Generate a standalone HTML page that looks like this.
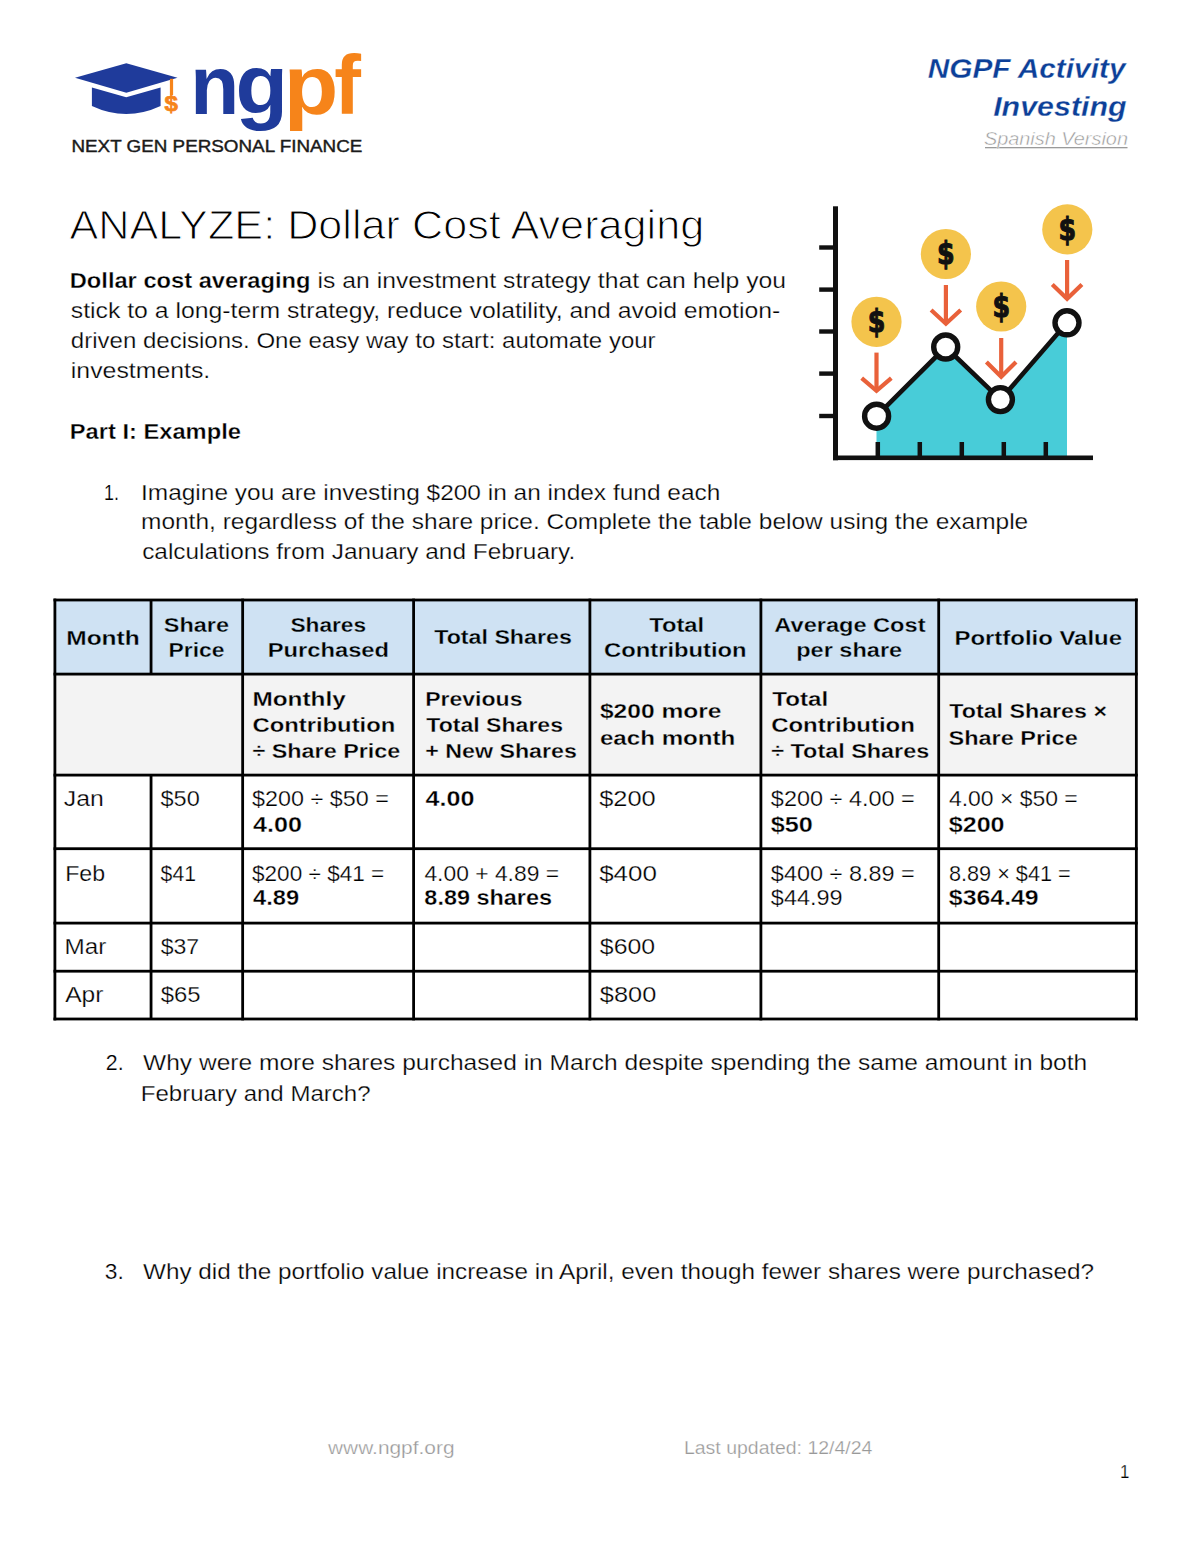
<!DOCTYPE html><html><head><meta charset="utf-8"><title>ANALYZE: Dollar Cost Averaging</title>
<style>html,body{margin:0;padding:0;background:#fff;}body{width:1200px;height:1553px;overflow:hidden;position:relative;font-family:"Liberation Sans",sans-serif;}svg{display:block;position:absolute;left:0;top:0;}</style></head><body>
<svg width="1200" height="1553" viewBox="0 0 1200 1553">
<g id="logo">
<polygon points="75,77.8 126.3,63.3 177.5,77.8 126.3,92.8" fill="#1f3b9b"/>
<path d="M91.9,87.6 L126.2,97.3 L160.6,87.6 L160.6,106 Q126.2,122 91.9,106 Z" fill="#1f3b9b"/>
<rect x="169.9" y="78.8" width="3.2" height="16.5" fill="#f6841a"/>
<text transform="translate(164.5,110.7) scale(1.12,1)" font-family="Liberation Sans, sans-serif" font-weight="700" font-size="21.5" fill="#f6841a" stroke="#f6841a" stroke-width="0.7">$</text>
</g>

<g id="chart">
<polygon points="876.5,416.2 945.7,347 1000.5,399.6 1067,322.8 1067,457.5 876.5,457.5" fill="#48ccd8"/>
<rect x="833" y="206.3" width="5" height="254" fill="#111"/>
<rect x="833" y="455.5" width="260" height="4.6" fill="#111"/>
<rect x="819.2" y="245.3" width="16" height="4.4" fill="#111"/>
<rect x="819.2" y="287.40000000000003" width="16" height="4.4" fill="#111"/>
<rect x="819.2" y="329.3" width="16" height="4.4" fill="#111"/>
<rect x="819.2" y="371.40000000000003" width="16" height="4.4" fill="#111"/>
<rect x="819.2" y="413.8" width="16" height="4.4" fill="#111"/>
<rect x="875.55" y="442" width="4.5" height="16" fill="#111"/>
<rect x="917.55" y="442" width="4.5" height="16" fill="#111"/>
<rect x="959.55" y="442" width="4.5" height="16" fill="#111"/>
<rect x="1001.55" y="442" width="4.5" height="16" fill="#111"/>
<rect x="1043.55" y="442" width="4.5" height="16" fill="#111"/>
<polyline points="876.5,416.2 945.7,347 1000.5,399.6 1067,322.8" fill="none" stroke="#111" stroke-width="4.6"/>
<circle cx="876.6" cy="416.2" r="12" fill="#fff" stroke="#111" stroke-width="5.4"/>
<circle cx="945.7" cy="347" r="12" fill="#fff" stroke="#111" stroke-width="5.4"/>
<circle cx="1000.4" cy="399.6" r="12" fill="#fff" stroke="#111" stroke-width="5.4"/>
<circle cx="1067" cy="322.8" r="12" fill="#fff" stroke="#111" stroke-width="5.4"/>
<circle cx="876.5" cy="321.8" r="25.1" fill="#f4c44c"/>
<text transform="translate(876.50,332.00) scale(0.78,1)" text-anchor="middle" font-family="DejaVu Sans, sans-serif" font-weight="700" font-size="32.5" fill="#111" stroke="#111" stroke-width="1.1">$</text>
<circle cx="945.9" cy="254" r="25.1" fill="#f4c44c"/>
<text transform="translate(945.90,264.20) scale(0.78,1)" text-anchor="middle" font-family="DejaVu Sans, sans-serif" font-weight="700" font-size="32.5" fill="#111" stroke="#111" stroke-width="1.1">$</text>
<circle cx="1001.2" cy="306.5" r="25.1" fill="#f4c44c"/>
<text transform="translate(1001.20,316.70) scale(0.78,1)" text-anchor="middle" font-family="DejaVu Sans, sans-serif" font-weight="700" font-size="32.5" fill="#111" stroke="#111" stroke-width="1.1">$</text>
<circle cx="1067.3" cy="229.4" r="25.1" fill="#f4c44c"/>
<text transform="translate(1067.30,239.60) scale(0.78,1)" text-anchor="middle" font-family="DejaVu Sans, sans-serif" font-weight="700" font-size="32.5" fill="#111" stroke="#111" stroke-width="1.1">$</text>
<line x1="876.5" y1="352.6" x2="876.5" y2="390.3" stroke="#e9613a" stroke-width="4.2"/>
<polyline points="861.7,378.2 876.5,390.8 891.3,378.2" fill="none" stroke="#e9613a" stroke-width="4.2"/>
<line x1="945.9" y1="285" x2="945.9" y2="323.2" stroke="#e9613a" stroke-width="4.2"/>
<polyline points="931.1,310 945.9,323.7 960.6999999999999,310" fill="none" stroke="#e9613a" stroke-width="4.2"/>
<line x1="1001.2" y1="338" x2="1001.2" y2="376.3" stroke="#e9613a" stroke-width="4.2"/>
<polyline points="986.4000000000001,362 1001.2,376.8 1016.0,362" fill="none" stroke="#e9613a" stroke-width="4.2"/>
<line x1="1067.1" y1="260" x2="1067.1" y2="298.3" stroke="#e9613a" stroke-width="4.2"/>
<polyline points="1052.3,284.6 1067.1,298.8 1081.8999999999999,284.6" fill="none" stroke="#e9613a" stroke-width="4.2"/>
</g>
<g id="table">
<rect x="54.9" y="600" width="1081.4499999999998" height="74.10000000000002" fill="#cfe2f3"/>
<rect x="54.9" y="674.1" width="1081.4499999999998" height="101.0" fill="#f3f3f3"/>
<rect x="53.5" y="598.6" width="1084.2499999999998" height="2.8" fill="#000"/>
<rect x="53.5" y="672.7" width="1084.2499999999998" height="2.8" fill="#000"/>
<rect x="53.5" y="773.7" width="1084.2499999999998" height="2.8" fill="#000"/>
<rect x="53.5" y="847.3000000000001" width="1084.2499999999998" height="2.8" fill="#000"/>
<rect x="53.5" y="921.7" width="1084.2499999999998" height="2.8" fill="#000"/>
<rect x="53.5" y="969.8000000000001" width="1084.2499999999998" height="2.8" fill="#000"/>
<rect x="53.5" y="1017.6" width="1084.2499999999998" height="2.8" fill="#000"/>
<rect x="53.5" y="598.6" width="2.8" height="421.8" fill="#000"/>
<rect x="149.65" y="600" width="2.8" height="74.10000000000002" fill="#000"/>
<rect x="149.65" y="775.1" width="2.8" height="243.89999999999998" fill="#000"/>
<rect x="241.25" y="598.6" width="2.8" height="421.8" fill="#000"/>
<rect x="412.20000000000005" y="598.6" width="2.8" height="421.8" fill="#000"/>
<rect x="588.5" y="598.6" width="2.8" height="421.8" fill="#000"/>
<rect x="759.5" y="598.6" width="2.8" height="421.8" fill="#000"/>
<rect x="937.3000000000001" y="598.6" width="2.8" height="421.8" fill="#000"/>
<rect x="1134.9499999999998" y="598.6" width="2.8" height="421.8" fill="#000"/>
</g>
<rect x="985" y="147" width="142.5" height="1.3" fill="#9a9a9a"/>
<g id="text">
<text x="927.70" y="77.5" style="font-family:'Liberation Sans', sans-serif;font-size:27.2px;font-weight:700;font-style:italic;stroke:#fff;stroke-width:0.3px;" fill="#0c3f98" textLength="197.81" lengthAdjust="spacingAndGlyphs">NGPF Activity</text>
<text x="993.18" y="116.4" style="font-family:'Liberation Sans', sans-serif;font-size:27.2px;font-weight:700;font-style:italic;stroke:#fff;stroke-width:0.3px;" fill="#0c3f98" textLength="133.50" lengthAdjust="spacingAndGlyphs">Investing</text>
<text x="983.93" y="145.3" style="font-family:'Liberation Sans', sans-serif;font-size:18.6px;font-weight:400;font-style:italic;stroke:#fff;stroke-width:0.45px;" fill="#9a9a9a" textLength="144.04" lengthAdjust="spacingAndGlyphs">Spanish Version</text>
<text x="71.47" y="152.4" style="font-family:'Liberation Sans', sans-serif;font-size:16.6px;font-weight:400;stroke:#1a1a1a;stroke-width:0.4px;" fill="#1a1a1a" textLength="290.82" lengthAdjust="spacingAndGlyphs">NEXT GEN PERSONAL FINANCE</text>
<text x="190.17" y="114.3" style="font-family:'Liberation Sans', sans-serif;font-size:83px;font-weight:700;" fill="#1f3b9b" textLength="48.97" lengthAdjust="spacingAndGlyphs">n</text>
<text x="235.49" y="114.3" style="font-family:'Liberation Sans', sans-serif;font-size:83px;font-weight:700;" fill="#1f3b9b" textLength="52.51" lengthAdjust="spacingAndGlyphs">g</text>
<text x="283.82" y="114.3" style="font-family:'Liberation Sans', sans-serif;font-size:83px;font-weight:700;" fill="#f6841a" textLength="54.57" lengthAdjust="spacingAndGlyphs">p</text>
<text x="334.23" y="114.3" style="font-family:'Liberation Sans', sans-serif;font-size:83px;font-weight:700;" fill="#f6841a" textLength="26.72" lengthAdjust="spacingAndGlyphs">f</text>
<text x="69.45" y="238.6" style="font-family:'Liberation Sans', sans-serif;font-size:41px;font-weight:400;stroke:#fff;stroke-width:1.1px;" fill="#000" textLength="634.81" lengthAdjust="spacingAndGlyphs">ANALYZE: Dollar Cost Averaging</text>
<text x="69.77" y="287.8" style="font-family:'Liberation Sans', sans-serif;font-size:21.2px;font-weight:700;stroke:#fff;stroke-width:0.3px;" fill="#000" textLength="240.69" lengthAdjust="spacingAndGlyphs">Dollar cost averaging</text>
<text x="317.63" y="287.8" style="font-family:'Liberation Sans', sans-serif;font-size:21.2px;font-weight:400;stroke:#fff;stroke-width:0.25px;" fill="#000" textLength="468.46" lengthAdjust="spacingAndGlyphs">is an investment strategy that can help you</text>
<text x="70.83" y="317.8" style="font-family:'Liberation Sans', sans-serif;font-size:21.2px;font-weight:400;stroke:#fff;stroke-width:0.25px;" fill="#000" textLength="709.39" lengthAdjust="spacingAndGlyphs">stick to a long-term strategy, reduce volatility, and avoid emotion-</text>
<text x="70.87" y="348.3" style="font-family:'Liberation Sans', sans-serif;font-size:21.2px;font-weight:400;stroke:#fff;stroke-width:0.25px;" fill="#000" textLength="584.77" lengthAdjust="spacingAndGlyphs">driven decisions. One easy way to start: automate your</text>
<text x="70.83" y="378" style="font-family:'Liberation Sans', sans-serif;font-size:21.2px;font-weight:400;stroke:#fff;stroke-width:0.25px;" fill="#000" textLength="139.44" lengthAdjust="spacingAndGlyphs">investments.</text>
<text x="69.76" y="438.9" style="font-family:'Liberation Sans', sans-serif;font-size:21.2px;font-weight:700;stroke:#fff;stroke-width:0.3px;" fill="#000" textLength="171.16" lengthAdjust="spacingAndGlyphs">Part I: Example</text>
<text x="104.11" y="499.7" style="font-family:'Liberation Sans', sans-serif;font-size:21.2px;font-weight:400;stroke:#fff;stroke-width:0.2px;" fill="#000" textLength="14.89" lengthAdjust="spacingAndGlyphs">1.</text>
<text x="140.99" y="499.7" style="font-family:'Liberation Sans', sans-serif;font-size:21.2px;font-weight:400;stroke:#fff;stroke-width:0.25px;" fill="#000" textLength="579.38" lengthAdjust="spacingAndGlyphs">Imagine you are investing $200 in an index fund each</text>
<text x="140.99" y="529.2" style="font-family:'Liberation Sans', sans-serif;font-size:21.2px;font-weight:400;stroke:#fff;stroke-width:0.25px;" fill="#000" textLength="887.26" lengthAdjust="spacingAndGlyphs">month, regardless of the share price. Complete the table below using the example</text>
<text x="142.15" y="558.8" style="font-family:'Liberation Sans', sans-serif;font-size:21.2px;font-weight:400;stroke:#fff;stroke-width:0.25px;" fill="#000" textLength="433.12" lengthAdjust="spacingAndGlyphs">calculations from January and February.</text>
<text x="105.89" y="1070" style="font-family:'Liberation Sans', sans-serif;font-size:21.2px;font-weight:400;stroke:#fff;stroke-width:0.2px;" fill="#000" textLength="17.79" lengthAdjust="spacingAndGlyphs">2.</text>
<text x="143.00" y="1070" style="font-family:'Liberation Sans', sans-serif;font-size:21.2px;font-weight:400;stroke:#fff;stroke-width:0.25px;" fill="#000" textLength="944.24" lengthAdjust="spacingAndGlyphs">Why were more shares purchased in March despite spending the same amount in both</text>
<text x="140.73" y="1101" style="font-family:'Liberation Sans', sans-serif;font-size:21.2px;font-weight:400;stroke:#fff;stroke-width:0.25px;" fill="#000" textLength="229.91" lengthAdjust="spacingAndGlyphs">February and March?</text>
<text x="104.83" y="1279" style="font-family:'Liberation Sans', sans-serif;font-size:21.2px;font-weight:400;stroke:#fff;stroke-width:0.2px;" fill="#000" textLength="18.97" lengthAdjust="spacingAndGlyphs">3.</text>
<text x="143.00" y="1279" style="font-family:'Liberation Sans', sans-serif;font-size:21.2px;font-weight:400;stroke:#fff;stroke-width:0.25px;" fill="#000" textLength="951.01" lengthAdjust="spacingAndGlyphs">Why did the portfolio value increase in April, even though fewer shares were purchased?</text>
<text x="328.00" y="1454" style="font-family:'Liberation Sans', sans-serif;font-size:18px;font-weight:400;stroke:#fff;stroke-width:0.25px;" fill="#999999" textLength="126.53" lengthAdjust="spacingAndGlyphs">www.ngpf.org</text>
<text x="683.94" y="1453.8" style="font-family:'Liberation Sans', sans-serif;font-size:18px;font-weight:400;stroke:#fff;stroke-width:0.25px;" fill="#999999" textLength="188.43" lengthAdjust="spacingAndGlyphs">Last updated: 12/4/24</text>
<text x="1119.89" y="1478" style="font-family:'Liberation Sans', sans-serif;font-size:18.5px;font-weight:400;stroke:#fff;stroke-width:0.25px;" fill="#000" textLength="9.40" lengthAdjust="spacingAndGlyphs">1</text>
<text x="66.23" y="644.6" style="font-family:'Liberation Sans', sans-serif;font-size:21.0px;font-weight:700;stroke:#cfe2f3;stroke-width:0.3px;" fill="#000" textLength="73.52" lengthAdjust="spacingAndGlyphs">Month</text>
<text x="163.78" y="631.6" style="font-family:'Liberation Sans', sans-serif;font-size:21.0px;font-weight:700;stroke:#cfe2f3;stroke-width:0.3px;" fill="#000" textLength="65.24" lengthAdjust="spacingAndGlyphs">Share</text>
<text x="168.61" y="657.2" style="font-family:'Liberation Sans', sans-serif;font-size:21.0px;font-weight:700;stroke:#cfe2f3;stroke-width:0.3px;" fill="#000" textLength="55.90" lengthAdjust="spacingAndGlyphs">Price</text>
<text x="290.42" y="631.6" style="font-family:'Liberation Sans', sans-serif;font-size:21.0px;font-weight:700;stroke:#cfe2f3;stroke-width:0.3px;" fill="#000" textLength="75.71" lengthAdjust="spacingAndGlyphs">Shares</text>
<text x="267.67" y="657.2" style="font-family:'Liberation Sans', sans-serif;font-size:21.0px;font-weight:700;stroke:#cfe2f3;stroke-width:0.3px;" fill="#000" textLength="121.40" lengthAdjust="spacingAndGlyphs">Purchased</text>
<text x="434.20" y="644.4" style="font-family:'Liberation Sans', sans-serif;font-size:21.0px;font-weight:700;stroke:#cfe2f3;stroke-width:0.3px;" fill="#000" textLength="137.64" lengthAdjust="spacingAndGlyphs">Total Shares</text>
<text x="649.20" y="631.6" style="font-family:'Liberation Sans', sans-serif;font-size:21.0px;font-weight:700;stroke:#cfe2f3;stroke-width:0.3px;" fill="#000" textLength="54.92" lengthAdjust="spacingAndGlyphs">Total</text>
<text x="604.07" y="657.2" style="font-family:'Liberation Sans', sans-serif;font-size:21.0px;font-weight:700;stroke:#cfe2f3;stroke-width:0.3px;" fill="#000" textLength="142.53" lengthAdjust="spacingAndGlyphs">Contribution</text>
<text x="774.38" y="631.6" style="font-family:'Liberation Sans', sans-serif;font-size:21.0px;font-weight:700;stroke:#cfe2f3;stroke-width:0.3px;" fill="#000" textLength="151.11" lengthAdjust="spacingAndGlyphs">Average Cost</text>
<text x="796.26" y="657.2" style="font-family:'Liberation Sans', sans-serif;font-size:21.0px;font-weight:700;stroke:#cfe2f3;stroke-width:0.3px;" fill="#000" textLength="105.87" lengthAdjust="spacingAndGlyphs">per share</text>
<text x="954.46" y="644.6" style="font-family:'Liberation Sans', sans-serif;font-size:21.0px;font-weight:700;stroke:#cfe2f3;stroke-width:0.3px;" fill="#000" textLength="167.51" lengthAdjust="spacingAndGlyphs">Portfolio Value</text>
<text x="252.44" y="705.5" style="font-family:'Liberation Sans', sans-serif;font-size:21.0px;font-weight:700;stroke:#f3f3f3;stroke-width:0.3px;" fill="#000" textLength="93.32" lengthAdjust="spacingAndGlyphs">Monthly</text>
<text x="252.47" y="731.6" style="font-family:'Liberation Sans', sans-serif;font-size:21.0px;font-weight:700;stroke:#f3f3f3;stroke-width:0.3px;" fill="#000" textLength="142.83" lengthAdjust="spacingAndGlyphs">Contribution</text>
<text x="252.49" y="757.5" style="font-family:'Liberation Sans', sans-serif;font-size:21.0px;font-weight:700;stroke:#f3f3f3;stroke-width:0.3px;" fill="#000" textLength="147.75" lengthAdjust="spacingAndGlyphs">÷ Share Price</text>
<text x="425.20" y="705.5" style="font-family:'Liberation Sans', sans-serif;font-size:21.0px;font-weight:700;stroke:#f3f3f3;stroke-width:0.3px;" fill="#000" textLength="97.28" lengthAdjust="spacingAndGlyphs">Previous</text>
<text x="426.30" y="731.6" style="font-family:'Liberation Sans', sans-serif;font-size:21.0px;font-weight:700;stroke:#f3f3f3;stroke-width:0.3px;" fill="#000" textLength="136.73" lengthAdjust="spacingAndGlyphs">Total Shares</text>
<text x="425.19" y="757.5" style="font-family:'Liberation Sans', sans-serif;font-size:21.0px;font-weight:700;stroke:#f3f3f3;stroke-width:0.3px;" fill="#000" textLength="151.68" lengthAdjust="spacingAndGlyphs">+ New Shares</text>
<text x="599.93" y="717.8" style="font-family:'Liberation Sans', sans-serif;font-size:21.0px;font-weight:700;stroke:#f3f3f3;stroke-width:0.3px;" fill="#000" textLength="121.53" lengthAdjust="spacingAndGlyphs">$200 more</text>
<text x="599.95" y="745.2" style="font-family:'Liberation Sans', sans-serif;font-size:21.0px;font-weight:700;stroke:#f3f3f3;stroke-width:0.3px;" fill="#000" textLength="135.44" lengthAdjust="spacingAndGlyphs">each month</text>
<text x="772.30" y="705.5" style="font-family:'Liberation Sans', sans-serif;font-size:21.0px;font-weight:700;stroke:#f3f3f3;stroke-width:0.3px;" fill="#000" textLength="55.85" lengthAdjust="spacingAndGlyphs">Total</text>
<text x="771.16" y="731.6" style="font-family:'Liberation Sans', sans-serif;font-size:21.0px;font-weight:700;stroke:#f3f3f3;stroke-width:0.3px;" fill="#000" textLength="143.75" lengthAdjust="spacingAndGlyphs">Contribution</text>
<text x="771.19" y="757.5" style="font-family:'Liberation Sans', sans-serif;font-size:21.0px;font-weight:700;stroke:#f3f3f3;stroke-width:0.3px;" fill="#000" textLength="158.05" lengthAdjust="spacingAndGlyphs">÷ Total Shares</text>
<text x="949.30" y="718" style="font-family:'Liberation Sans', sans-serif;font-size:21.0px;font-weight:700;stroke:#f3f3f3;stroke-width:0.3px;" fill="#000" textLength="157.66" lengthAdjust="spacingAndGlyphs">Total Shares ×</text>
<text x="948.48" y="745.4" style="font-family:'Liberation Sans', sans-serif;font-size:21.0px;font-weight:700;stroke:#f3f3f3;stroke-width:0.3px;" fill="#000" textLength="129.27" lengthAdjust="spacingAndGlyphs">Share Price</text>
<text x="63.83" y="805.6" style="font-family:'Liberation Sans', sans-serif;font-size:21.2px;font-weight:400;stroke:#fff;stroke-width:0.25px;" fill="#000" textLength="40.05" lengthAdjust="spacingAndGlyphs">Jan</text>
<text x="160.49" y="805.6" style="font-family:'Liberation Sans', sans-serif;font-size:21.2px;font-weight:400;stroke:#fff;stroke-width:0.25px;" fill="#000" textLength="39.31" lengthAdjust="spacingAndGlyphs">$50</text>
<text x="252.00" y="805.6" style="font-family:'Liberation Sans', sans-serif;font-size:21.2px;font-weight:400;stroke:#fff;stroke-width:0.25px;" fill="#000" textLength="136.78" lengthAdjust="spacingAndGlyphs">$200 ÷ $50 =</text>
<text x="253.10" y="832" style="font-family:'Liberation Sans', sans-serif;font-size:21.2px;font-weight:700;stroke:#fff;stroke-width:0.3px;" fill="#000" textLength="48.88" lengthAdjust="spacingAndGlyphs">4.00</text>
<text x="425.50" y="805.6" style="font-family:'Liberation Sans', sans-serif;font-size:21.2px;font-weight:700;stroke:#fff;stroke-width:0.3px;" fill="#000" textLength="48.88" lengthAdjust="spacingAndGlyphs">4.00</text>
<text x="599.20" y="805.6" style="font-family:'Liberation Sans', sans-serif;font-size:21.2px;font-weight:400;stroke:#fff;stroke-width:0.25px;" fill="#000" textLength="56.57" lengthAdjust="spacingAndGlyphs">$200</text>
<text x="770.89" y="805.6" style="font-family:'Liberation Sans', sans-serif;font-size:21.2px;font-weight:400;stroke:#fff;stroke-width:0.25px;" fill="#000" textLength="143.86" lengthAdjust="spacingAndGlyphs">$200 ÷ 4.00 =</text>
<text x="770.81" y="832" style="font-family:'Liberation Sans', sans-serif;font-size:21.2px;font-weight:700;stroke:#fff;stroke-width:0.3px;" fill="#000" textLength="42.11" lengthAdjust="spacingAndGlyphs">$50</text>
<text x="948.92" y="805.6" style="font-family:'Liberation Sans', sans-serif;font-size:21.2px;font-weight:400;stroke:#fff;stroke-width:0.25px;" fill="#000" textLength="128.87" lengthAdjust="spacingAndGlyphs">4.00 × $50 =</text>
<text x="948.82" y="832" style="font-family:'Liberation Sans', sans-serif;font-size:21.2px;font-weight:700;stroke:#fff;stroke-width:0.3px;" fill="#000" textLength="55.73" lengthAdjust="spacingAndGlyphs">$200</text>
<text x="65.21" y="880.6" style="font-family:'Liberation Sans', sans-serif;font-size:21.2px;font-weight:400;stroke:#fff;stroke-width:0.25px;" fill="#000" textLength="39.95" lengthAdjust="spacingAndGlyphs">Feb</text>
<text x="160.60" y="880.6" style="font-family:'Liberation Sans', sans-serif;font-size:21.2px;font-weight:400;stroke:#fff;stroke-width:0.25px;" fill="#000" textLength="35.36" lengthAdjust="spacingAndGlyphs">$41</text>
<text x="252.04" y="880.6" style="font-family:'Liberation Sans', sans-serif;font-size:21.2px;font-weight:400;stroke:#fff;stroke-width:0.25px;" fill="#000" textLength="132.20" lengthAdjust="spacingAndGlyphs">$200 ÷ $41 =</text>
<text x="253.10" y="905" style="font-family:'Liberation Sans', sans-serif;font-size:21.2px;font-weight:700;stroke:#fff;stroke-width:0.3px;" fill="#000" textLength="46.18" lengthAdjust="spacingAndGlyphs">4.89</text>
<text x="424.42" y="880.6" style="font-family:'Liberation Sans', sans-serif;font-size:21.2px;font-weight:400;stroke:#fff;stroke-width:0.25px;" fill="#000" textLength="134.64" lengthAdjust="spacingAndGlyphs">4.00 + 4.89 =</text>
<text x="424.39" y="905" style="font-family:'Liberation Sans', sans-serif;font-size:21.2px;font-weight:700;stroke:#fff;stroke-width:0.3px;" fill="#000" textLength="127.61" lengthAdjust="spacingAndGlyphs">8.89 shares</text>
<text x="599.17" y="880.6" style="font-family:'Liberation Sans', sans-serif;font-size:21.2px;font-weight:400;stroke:#fff;stroke-width:0.25px;" fill="#000" textLength="57.83" lengthAdjust="spacingAndGlyphs">$400</text>
<text x="770.89" y="880.6" style="font-family:'Liberation Sans', sans-serif;font-size:21.2px;font-weight:400;stroke:#fff;stroke-width:0.25px;" fill="#000" textLength="143.86" lengthAdjust="spacingAndGlyphs">$400 ÷ 8.89 =</text>
<text x="770.89" y="905" style="font-family:'Liberation Sans', sans-serif;font-size:21.2px;font-weight:400;stroke:#fff;stroke-width:0.25px;" fill="#000" textLength="71.71" lengthAdjust="spacingAndGlyphs">$44.99</text>
<text x="948.98" y="880.6" style="font-family:'Liberation Sans', sans-serif;font-size:21.2px;font-weight:400;stroke:#fff;stroke-width:0.25px;" fill="#000" textLength="121.75" lengthAdjust="spacingAndGlyphs">8.89 × $41 =</text>
<text x="948.83" y="905" style="font-family:'Liberation Sans', sans-serif;font-size:21.2px;font-weight:700;stroke:#fff;stroke-width:0.3px;" fill="#000" textLength="89.87" lengthAdjust="spacingAndGlyphs">$364.49</text>
<text x="64.51" y="954.2" style="font-family:'Liberation Sans', sans-serif;font-size:21.2px;font-weight:400;stroke:#fff;stroke-width:0.25px;" fill="#000" textLength="41.76" lengthAdjust="spacingAndGlyphs">Mar</text>
<text x="160.71" y="954.2" style="font-family:'Liberation Sans', sans-serif;font-size:21.2px;font-weight:400;stroke:#fff;stroke-width:0.25px;" fill="#000" textLength="38.47" lengthAdjust="spacingAndGlyphs">$37</text>
<text x="599.83" y="954.2" style="font-family:'Liberation Sans', sans-serif;font-size:21.2px;font-weight:400;stroke:#fff;stroke-width:0.25px;" fill="#000" textLength="55.31" lengthAdjust="spacingAndGlyphs">$600</text>
<text x="65.20" y="1002" style="font-family:'Liberation Sans', sans-serif;font-size:21.2px;font-weight:400;stroke:#fff;stroke-width:0.25px;" fill="#000" textLength="38.28" lengthAdjust="spacingAndGlyphs">Apr</text>
<text x="160.67" y="1002" style="font-family:'Liberation Sans', sans-serif;font-size:21.2px;font-weight:400;stroke:#fff;stroke-width:0.25px;" fill="#000" textLength="39.86" lengthAdjust="spacingAndGlyphs">$65</text>
<text x="599.80" y="1002" style="font-family:'Liberation Sans', sans-serif;font-size:21.2px;font-weight:400;stroke:#fff;stroke-width:0.25px;" fill="#000" textLength="56.46" lengthAdjust="spacingAndGlyphs">$800</text>
</g>
</svg></body></html>
